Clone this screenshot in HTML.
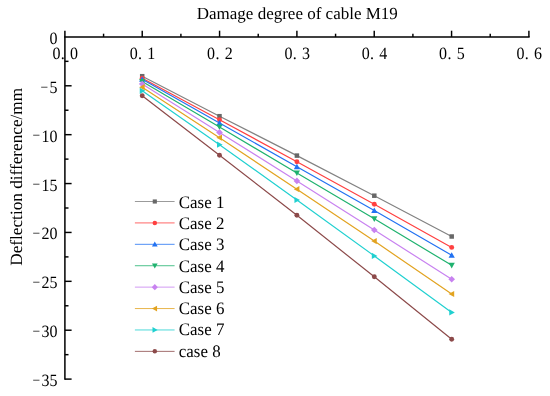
<!DOCTYPE html>
<html><head><meta charset="utf-8"><title>Damage degree of cable M19</title>
<style>
html,body{margin:0;padding:0;background:#fff;}
body{width:550px;height:396px;overflow:hidden;}
svg{display:block;}
text{font-family:"Liberation Serif","Times New Roman",serif;fill:#000;text-rendering:geometricPrecision;}
.tk{font-size:16px;}
.lg{font-size:17px;}
</style></head><body>
<svg width="550" height="396" viewBox="0 0 550 396">
<rect width="550" height="396" fill="#fff"/>

<g stroke="#000" stroke-width="1.5" fill="none" stroke-linecap="butt">
<line x1="64.9" y1="30.70" x2="64.9" y2="379.80"/>
<line x1="64.15" y1="36.9" x2="529.65" y2="36.9"/>
<line x1="103.57" y1="36.9" x2="103.57" y2="33.70" stroke-width="1.45"/>
<line x1="142.23" y1="36.9" x2="142.23" y2="30.70" stroke-width="1.45"/>
<line x1="180.90" y1="36.9" x2="180.90" y2="33.70" stroke-width="1.45"/>
<line x1="219.57" y1="36.9" x2="219.57" y2="30.70" stroke-width="1.45"/>
<line x1="258.23" y1="36.9" x2="258.23" y2="33.70" stroke-width="1.45"/>
<line x1="296.90" y1="36.9" x2="296.90" y2="30.70" stroke-width="1.45"/>
<line x1="335.57" y1="36.9" x2="335.57" y2="33.70" stroke-width="1.45"/>
<line x1="374.23" y1="36.9" x2="374.23" y2="30.70" stroke-width="1.45"/>
<line x1="412.90" y1="36.9" x2="412.90" y2="33.70" stroke-width="1.45"/>
<line x1="451.57" y1="36.9" x2="451.57" y2="30.70" stroke-width="1.45"/>
<line x1="490.23" y1="36.9" x2="490.23" y2="33.70" stroke-width="1.45"/>
<line x1="528.90" y1="36.9" x2="528.90" y2="30.70" stroke-width="1.45"/>
<line x1="64.9" y1="61.34" x2="68.50" y2="61.34" stroke-width="1.45"/>
<line x1="64.9" y1="85.79" x2="71.60" y2="85.79" stroke-width="1.45"/>
<line x1="64.9" y1="110.23" x2="68.50" y2="110.23" stroke-width="1.45"/>
<line x1="64.9" y1="134.67" x2="71.60" y2="134.67" stroke-width="1.45"/>
<line x1="64.9" y1="159.11" x2="68.50" y2="159.11" stroke-width="1.45"/>
<line x1="64.9" y1="183.56" x2="71.60" y2="183.56" stroke-width="1.45"/>
<line x1="64.9" y1="208.00" x2="68.50" y2="208.00" stroke-width="1.45"/>
<line x1="64.9" y1="232.44" x2="71.60" y2="232.44" stroke-width="1.45"/>
<line x1="64.9" y1="256.89" x2="68.50" y2="256.89" stroke-width="1.45"/>
<line x1="64.9" y1="281.33" x2="71.60" y2="281.33" stroke-width="1.45"/>
<line x1="64.9" y1="305.77" x2="68.50" y2="305.77" stroke-width="1.45"/>
<line x1="64.9" y1="330.21" x2="71.60" y2="330.21" stroke-width="1.45"/>
<line x1="64.9" y1="354.66" x2="68.50" y2="354.66" stroke-width="1.45"/>
<line x1="64.9" y1="379.10" x2="71.60" y2="379.10" stroke-width="1.45"/>
</g>
<text class="tk" transform="translate(52.40,58.7) scale(1,1.08)">0<tspan dx="0.4">.</tspan><tspan dx="5.2">0</tspan></text>
<text class="tk" transform="translate(129.73,58.7) scale(1,1.08)">0<tspan dx="0.4">.</tspan><tspan dx="5.2">1</tspan></text>
<text class="tk" transform="translate(207.07,58.7) scale(1,1.08)">0<tspan dx="0.4">.</tspan><tspan dx="5.2">2</tspan></text>
<text class="tk" transform="translate(284.40,58.7) scale(1,1.08)">0<tspan dx="0.4">.</tspan><tspan dx="5.2">3</tspan></text>
<text class="tk" transform="translate(361.73,58.7) scale(1,1.08)">0<tspan dx="0.4">.</tspan><tspan dx="5.2">4</tspan></text>
<text class="tk" transform="translate(439.07,58.7) scale(1,1.08)">0<tspan dx="0.4">.</tspan><tspan dx="5.2">5</tspan></text>
<text class="tk" transform="translate(516.40,58.7) scale(1,1.08)">0<tspan dx="0.4">.</tspan><tspan dx="5.2">6</tspan></text>
<text class="tk" transform="translate(57.6,43.90) scale(1,1.08)" text-anchor="end">0</text>
<text class="tk" transform="translate(57.6,92.79) scale(1,1.08)" text-anchor="end"><tspan font-size="13.5" dy="-1.2">−</tspan><tspan dx="1.4" dy="1.2">5</tspan></text>
<text class="tk" transform="translate(57.6,141.67) scale(1,1.08)" text-anchor="end"><tspan font-size="13.5" dy="-1.2">−</tspan><tspan dx="1.4" dy="1.2">10</tspan></text>
<text class="tk" transform="translate(57.6,190.56) scale(1,1.08)" text-anchor="end"><tspan font-size="13.5" dy="-1.2">−</tspan><tspan dx="1.4" dy="1.2">15</tspan></text>
<text class="tk" transform="translate(57.6,239.44) scale(1,1.08)" text-anchor="end"><tspan font-size="13.5" dy="-1.2">−</tspan><tspan dx="1.4" dy="1.2">20</tspan></text>
<text class="tk" transform="translate(57.6,288.33) scale(1,1.08)" text-anchor="end"><tspan font-size="13.5" dy="-1.2">−</tspan><tspan dx="1.4" dy="1.2">25</tspan></text>
<text class="tk" transform="translate(57.6,337.21) scale(1,1.08)" text-anchor="end"><tspan font-size="13.5" dy="-1.2">−</tspan><tspan dx="1.4" dy="1.2">30</tspan></text>
<text class="tk" transform="translate(57.6,386.10) scale(1,1.08)" text-anchor="end"><tspan font-size="13.5" dy="-1.2">−</tspan><tspan dx="1.4" dy="1.2">35</tspan></text>
<text class="lg" x="297.3" y="19.3" text-anchor="middle">Damage degree of cable M19</text>
<text class="lg" transform="translate(22.1,176.8) rotate(-90)" text-anchor="middle" style="font-size:17.22px">Deflection difference/mm</text>
<polyline points="142.20,76.20 219.50,116.20 296.90,155.60 374.30,195.70 451.70,236.50" fill="none" stroke="#828282" stroke-width="1.2"/>
<rect x="139.95" y="73.95" width="4.50" height="4.50" fill="#686868"/>
<rect x="217.25" y="113.95" width="4.50" height="4.50" fill="#686868"/>
<rect x="294.65" y="153.35" width="4.50" height="4.50" fill="#686868"/>
<rect x="372.05" y="193.45" width="4.50" height="4.50" fill="#686868"/>
<rect x="449.45" y="234.25" width="4.50" height="4.50" fill="#686868"/>
<polyline points="142.20,78.20 219.50,119.70 296.90,161.80 374.30,204.20 451.70,247.40" fill="none" stroke="#ff4040" stroke-width="1.2"/>
<circle cx="142.20" cy="78.20" r="2.45" fill="#ff4040"/>
<circle cx="219.50" cy="119.70" r="2.45" fill="#ff4040"/>
<circle cx="296.90" cy="161.80" r="2.45" fill="#ff4040"/>
<circle cx="374.30" cy="204.20" r="2.45" fill="#ff4040"/>
<circle cx="451.70" cy="247.40" r="2.45" fill="#ff4040"/>
<polyline points="142.20,79.30 219.50,123.00 296.90,166.80 374.30,210.60 451.70,255.30" fill="none" stroke="#2272f2" stroke-width="1.2"/>
<polygon points="142.20,76.20 145.30,81.78 139.10,81.78" fill="#2272f2"/>
<polygon points="219.50,119.90 222.60,125.48 216.40,125.48" fill="#2272f2"/>
<polygon points="296.90,163.70 300.00,169.28 293.80,169.28" fill="#2272f2"/>
<polygon points="374.30,207.50 377.40,213.08 371.20,213.08" fill="#2272f2"/>
<polygon points="451.70,252.20 454.80,257.78 448.60,257.78" fill="#2272f2"/>
<polyline points="142.20,81.50 219.50,127.00 296.90,173.00 374.30,218.80 451.70,265.30" fill="none" stroke="#1fb26f" stroke-width="1.2"/>
<polygon points="142.20,84.60 145.30,79.02 139.10,79.02" fill="#1fb26f"/>
<polygon points="219.50,130.10 222.60,124.52 216.40,124.52" fill="#1fb26f"/>
<polygon points="296.90,176.10 300.00,170.52 293.80,170.52" fill="#1fb26f"/>
<polygon points="374.30,221.90 377.40,216.32 371.20,216.32" fill="#1fb26f"/>
<polygon points="451.70,268.40 454.80,262.82 448.60,262.82" fill="#1fb26f"/>
<polyline points="142.20,84.00 219.50,132.40 296.90,180.90 374.30,230.00 451.70,279.20" fill="none" stroke="#c882f0" stroke-width="1.2"/>
<polygon points="142.20,80.70 145.50,84.00 142.20,87.30 138.90,84.00" fill="#c882f0"/>
<polygon points="219.50,129.10 222.80,132.40 219.50,135.70 216.20,132.40" fill="#c882f0"/>
<polygon points="296.90,177.60 300.20,180.90 296.90,184.20 293.60,180.90" fill="#c882f0"/>
<polygon points="374.30,226.70 377.60,230.00 374.30,233.30 371.00,230.00" fill="#c882f0"/>
<polygon points="451.70,275.90 455.00,279.20 451.70,282.50 448.40,279.20" fill="#c882f0"/>
<polyline points="142.20,87.20 219.50,137.70 296.90,189.20 374.30,241.10 451.70,294.00" fill="none" stroke="#e2a320" stroke-width="1.2"/>
<polygon points="139.10,87.20 144.68,84.10 144.68,90.30" fill="#e2a320"/>
<polygon points="216.40,137.70 221.98,134.60 221.98,140.80" fill="#e2a320"/>
<polygon points="293.80,189.20 299.38,186.10 299.38,192.30" fill="#e2a320"/>
<polygon points="371.20,241.10 376.78,238.00 376.78,244.20" fill="#e2a320"/>
<polygon points="448.60,294.00 454.18,290.90 454.18,297.10" fill="#e2a320"/>
<polyline points="142.20,90.80 219.50,144.70 296.90,200.00 374.30,255.90 451.70,312.40" fill="none" stroke="#20d0d0" stroke-width="1.2"/>
<polygon points="145.30,90.80 139.72,87.70 139.72,93.90" fill="#20d0d0"/>
<polygon points="222.60,144.70 217.02,141.60 217.02,147.80" fill="#20d0d0"/>
<polygon points="300.00,200.00 294.42,196.90 294.42,203.10" fill="#20d0d0"/>
<polygon points="377.40,255.90 371.82,252.80 371.82,259.00" fill="#20d0d0"/>
<polygon points="454.80,312.40 449.22,309.30 449.22,315.50" fill="#20d0d0"/>
<polyline points="142.20,95.70 219.50,155.30 296.90,215.30 374.30,276.80 451.70,339.30" fill="none" stroke="#8c4a4a" stroke-width="1.2"/>
<circle cx="142.20" cy="95.70" r="2.45" fill="#8c4a4a"/>
<circle cx="219.50" cy="155.30" r="2.45" fill="#8c4a4a"/>
<circle cx="296.90" cy="215.30" r="2.45" fill="#8c4a4a"/>
<circle cx="374.30" cy="276.80" r="2.45" fill="#8c4a4a"/>
<circle cx="451.70" cy="339.30" r="2.45" fill="#8c4a4a"/>
<line x1="134.9" y1="201.50" x2="174.6" y2="201.50" stroke="#828282" stroke-width="0.8"/>
<rect x="152.73" y="199.43" width="4.14" height="4.14" fill="#686868"/>
<text class="lg" transform="translate(178.8,207.75) scale(0.995,1.03)">Case 1</text>
<line x1="134.9" y1="222.91" x2="174.6" y2="222.91" stroke="#ff4040" stroke-width="0.8"/>
<circle cx="154.80" cy="222.91" r="2.25" fill="#ff4040"/>
<text class="lg" transform="translate(178.8,229.00) scale(0.995,1.03)">Case 2</text>
<line x1="134.9" y1="244.32" x2="174.6" y2="244.32" stroke="#2272f2" stroke-width="0.8"/>
<polygon points="154.80,241.47 157.65,246.60 151.95,246.60" fill="#2272f2"/>
<text class="lg" transform="translate(178.8,250.25) scale(0.995,1.03)">Case 3</text>
<line x1="134.9" y1="265.73" x2="174.6" y2="265.73" stroke="#1fb26f" stroke-width="0.8"/>
<polygon points="154.80,268.58 157.65,263.45 151.95,263.45" fill="#1fb26f"/>
<text class="lg" transform="translate(178.8,271.50) scale(0.995,1.03)">Case 4</text>
<line x1="134.9" y1="287.14" x2="174.6" y2="287.14" stroke="#c882f0" stroke-width="0.8"/>
<polygon points="154.80,284.10 157.84,287.14 154.80,290.18 151.76,287.14" fill="#c882f0"/>
<text class="lg" transform="translate(178.8,292.75) scale(0.995,1.03)">Case 5</text>
<line x1="134.9" y1="308.55" x2="174.6" y2="308.55" stroke="#e2a320" stroke-width="0.8"/>
<polygon points="151.95,308.55 157.08,305.70 157.08,311.40" fill="#e2a320"/>
<text class="lg" transform="translate(178.8,314.00) scale(0.995,1.03)">Case 6</text>
<line x1="134.9" y1="329.96" x2="174.6" y2="329.96" stroke="#20d0d0" stroke-width="0.8"/>
<polygon points="157.65,329.96 152.52,327.11 152.52,332.81" fill="#20d0d0"/>
<text class="lg" transform="translate(178.8,335.25) scale(0.995,1.03)">Case 7</text>
<line x1="134.9" y1="351.37" x2="174.6" y2="351.37" stroke="#8c4a4a" stroke-width="0.8"/>
<circle cx="154.80" cy="351.37" r="2.25" fill="#8c4a4a"/>
<text class="lg" transform="translate(178.8,356.50) scale(0.995,1.03)">case 8</text>
</svg></body></html>
